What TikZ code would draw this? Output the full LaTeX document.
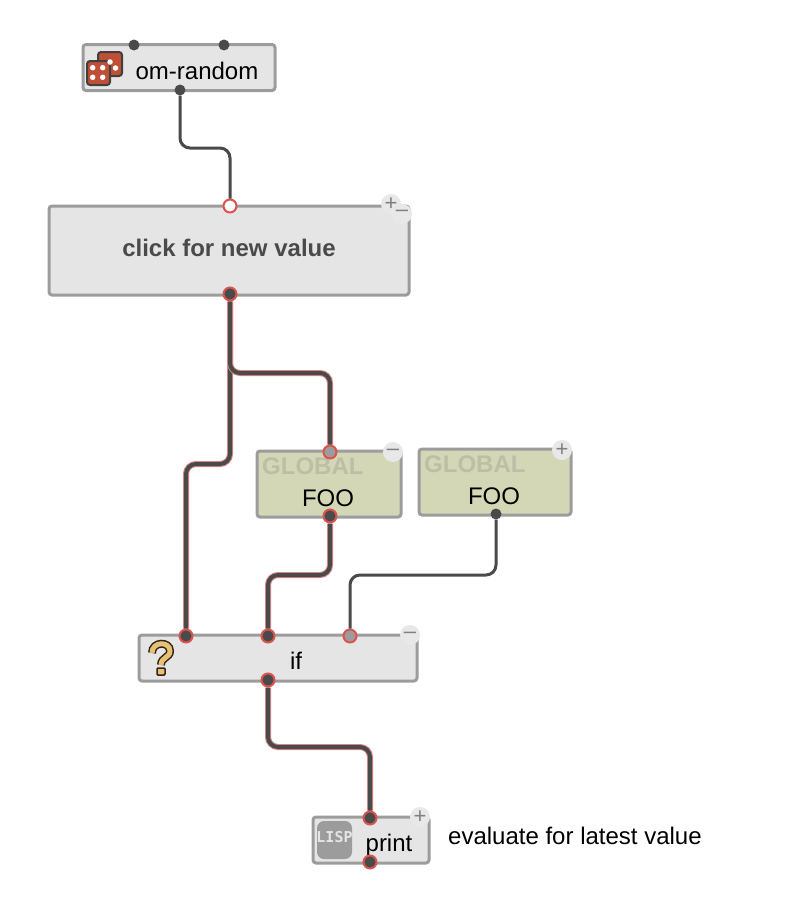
\documentclass[tikz,border=0pt]{standalone}
\usepackage{fontspec}
\setmainfont{Liberation Sans}
\newfontfamily\lispfont{DejaVu Sans Mono}
\definecolor{boxgray}{HTML}{E5E5E5}
\definecolor{boxline}{HTML}{9C9C9C}
\definecolor{globfill}{HTML}{D3D7B5}
\definecolor{globgray}{HTML}{BCBFA6}
\definecolor{wiredark}{HTML}{4A4A4A}
\definecolor{wirered}{HTML}{D9534F}
\definecolor{wirepink}{HTML}{DB8484}
\definecolor{dicered}{HTML}{BF4F35}
\definecolor{marktan}{HTML}{E6C172}
\definecolor{markdark}{HTML}{33211A}
\tikzset{
    omnode/.style={draw=boxline, fill=boxgray, line width=3pt, rounded corners=3pt, inner sep=0pt},
    globnode/.style={omnode, fill=globfill},
    label/.style={inner sep=0pt, font=\fontsize{24}{24}\selectfont, text=black},
    globtext/.style={inner sep=0pt, font=\fontsize{24}{24}\selectfont\bfseries, text=globgray},
    port/.style={circle, fill=wiredark, minimum size=11pt, inner sep=0pt},
    porton/.style={port, draw=wirered, line width=2pt, minimum size=13pt},
    portgray/.style={porton, fill=boxline},
    portwhite/.style={porton, fill=white},
    wire/.style={draw=wiredark, line width=3pt, rounded corners=10pt},
    wireon/.style={draw=wirepink, double=wiredark, double distance=4pt, line width=1pt, rounded corners=10pt},
    sizer/.style={circle, fill=boxgray!90!white, minimum size=20pt, inner sep=0pt, text=gray, font=\fontsize{22}{22}\selectfont},
    die/.style={draw=black!75, fill=dicered, line width=2pt, rounded corners=3pt},
    pip/.style={circle, fill=white, minimum size=5.5pt, inner sep=0pt}
}
\begin{document}
\begin{tikzpicture}[x=1pt, y=-1pt]
    \useasboundingbox (0,0) rectangle (802,910);
    \node[omnode, minimum width=192pt, minimum height=46pt] (random) at (179,67.5) {};
    \node[omnode, minimum width=360pt, minimum height=89pt] (click) at (229,250.5) {};
    \node[globnode, minimum width=144pt, minimum height=66pt] (fooa) at (329,484) {};
    \node[globnode, minimum width=152pt, minimum height=66pt] (foob) at (495,482) {};
    \node[omnode, minimum width=278pt, minimum height=46pt] (iff) at (278,658) {};
    \node[omnode, minimum width=116pt, minimum height=46pt] (print) at (371,840) {};

    \draw[die] (98,52) rectangle (122,76);
    \draw[die] (87,61) rectangle (110,85);
    \foreach \x/\y in {110/62, 115.5/68, 92.7/67.7, 102.7/67.7, 92.7/77.3, 102.7/77.3} {
        \node[pip] at (\x,\y) {};
    }
    \draw[draw=markdark, double=marktan, double distance=5pt, line width=1.5pt]
        (152,653) .. controls (152,641) and (170,641) .. (170,651)
        .. controls (170,658) and (161,657) .. (161,665);
    \draw[draw=markdark, fill=marktan, line width=1.5pt, rounded corners=1pt] (157,668) rectangle (165,675);

    \node[label] (randomtext) at (197,71) {om-random};
    \node[label, font=\fontsize{24}{24}\selectfont\bfseries, text=wiredark] (clicktext) at (229,248) {click for new value};
    \node[globtext, anchor=west] (fooaglob) at (262,466) {GLOBAL};
    \node[globtext, anchor=west] (foobglob) at (424,464) {GLOBAL};
    \node[label] (fooatext) at (328,498) {FOO};
    \node[label] (foobtext) at (494,496) {FOO};
    \node[label] (ifftext) at (296,661) {if};
    \node[fill=boxline, rounded corners=7pt, minimum width=35pt, minimum height=38pt, inner sep=0pt] (lisp) at (334.5,840) {};
    \node[text=boxgray, inner sep=0pt, font=\fontsize{15}{15}\lispfont\bfseries] (lisptext) at (334.5,837) {LISP};
    \node[label] (printtext) at (389,845) {print};
    \node[label, anchor=west] (note) at (448,836) {evaluate for latest value};

    \node[port] (randomina) at (134,45) {};
    \node[port] (randominb) at (224,45) {};
    \node[port] (randomout) at (180,90) {};
    \node[portwhite] (clickin) at (230,206) {};
    \node[porton] (clickout) at (230,294) {};
    \node[portgray] (fooain) at (330,452) {};
    \node[porton] (fooaout) at (330,516) {};
    \node[port] (foobout) at (496,514) {};
    \node[porton] (iffa) at (186,636) {};
    \node[porton] (iffb) at (268,636) {};
    \node[portgray] (iffc) at (350,636) {};
    \node[porton] (iffout) at (268,680) {};
    \node[porton] (printin) at (370,818) {};
    \node[porton] (printout) at (370,862) {};

    \draw[wire] (randomout) -- ++(0,58) -| (clickin);
    \draw[wireon] (clickout) -- ++(0,170) -| (iffa);
    \draw[wireon] (clickout) -- ++(0,79) -| (fooain);
    \draw[wireon] (fooaout) -- ++(0,59) -| (iffb);
    \draw[wire] (foobout) -- ++(0,61) -| (iffc);
    \draw[wireon] (iffout) -- ++(0,67) -| (printin);

    \node[sizer] (clickplus) at (391,204) {+};
    \node[sizer] (clickminus) at (402,214) {\raisebox{1pt}{–}};
    \node[sizer] (fooaminus) at (393,452) {–};
    \node[sizer] (foobplus) at (562,450) {+};
    \node[sizer] (iffminus) at (410,635) {–};
    \node[sizer] (printplus) at (420,817) {+};
\end{tikzpicture}
\end{document}
